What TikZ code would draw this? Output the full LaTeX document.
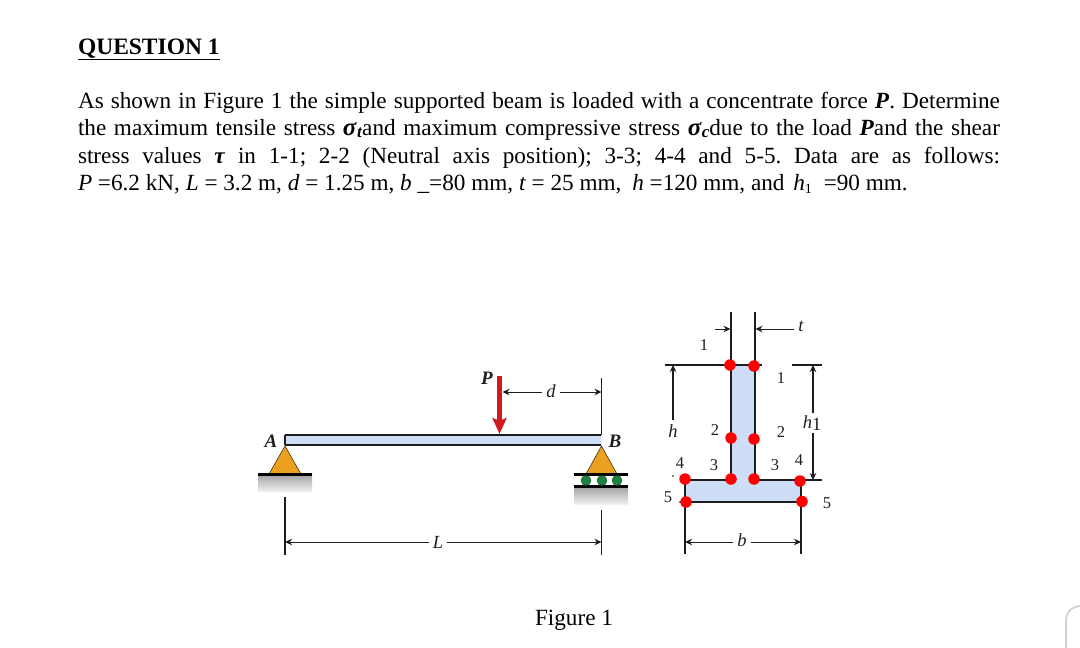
\documentclass[tikz,border=0pt]{standalone}
\usepackage{fontspec}
\setmainfont{Liberation Serif}
\usetikzlibrary{arrows.meta}
\newcommand\bi[1]{\textbf{\textit{#1}}}
\newcommand\bigsym[2]{{\fontsize{25}{25}\selectfont\bi{#1}}\raisebox{-0.2ex}{\fontsize{17}{17}\selectfont\bi{#2}}}
\newcommand\lowidx[1]{\raisebox{-0.25ex}{\fontsize{14}{14}\selectfont #1}}
\definecolor{beamblue}{RGB}{205,222,246}
\definecolor{pinorange}{RGB}{236,160,32}
\definecolor{rollgreen}{RGB}{30,130,65}
\definecolor{loadred}{RGB}{210,25,30}
\definecolor{inkdark}{RGB}{30,30,32}
\begin{document}
\begin{tikzpicture}[x=1pt,y=-1pt]
\tikzset{
  body text/.style = {inner sep = 0pt, outer sep = 0pt, font=\fontsize{23.2}{27.4}\selectfont},
  wall/.style = {draw=inkdark, line width=1.5pt},
  thin wall/.style = {draw=inkdark, line width=1.1pt},
  dim/.style = {draw=inkdark, line width=1pt, -{Stealth[length=7pt,width=6.5pt]}},
  vdim/.style = {dim, line width=1.3pt},
  ground/.style = {top color=black!36, bottom color=black!6, draw=none},
  pin/.style = {draw=black!70!pinorange, fill=pinorange, line width=0.6pt},
  roller/.style = {circle, fill=rollgreen, draw=black!40!rollgreen, inner sep=0pt, minimum size=10pt},
  reddot/.style = {circle, fill=red, inner sep=0pt, minimum width=10.5pt, minimum height=11.5pt},
  letter/.style = {inner sep=4pt, text=inkdark, font=\fontsize{18.5}{18}\selectfont\itshape},
  strong letter/.style = {letter, font=\fontsize{19}{18}\selectfont\itshape\bfseries},
  digit/.style = {inner sep=0pt, text=inkdark, font=\fontsize{16.5}{16.5}\selectfont}
}
\useasboundingbox (0,0) rectangle (1080,648);
% text
\node[body text, anchor=base west, font=\fontsize{23.5}{27.4}\selectfont] (title) at (78,54) {\textbf{\underline{QUESTION 1}}};
\node[body text, anchor=north west, text width=922pt, align=justify] (para) at (78,92) {\frenchspacing%
As shown in Figure 1 the simple supported beam is loaded with a concentrate force \bi{P}. Determine\linebreak
the maximum tensile stress \bigsym{σ}{t}and maximum compressive stress \bigsym{σ}{c}due to the load \bi{P}and the shear\linebreak
stress values \bi{τ} in 1-1; 2-2 (Neutral axis position); 3-3; 4-4 and 5-5. Data are as follows:\linebreak
\textit{P} =6.2 kN, \textit{L} = 3.2 m, \textit{d} = 1.25 m, \textit{b} \_=80 mm, \textit{t} = 25 mm,\hspace{5pt} \textit{h} =120 mm, and\hspace{3pt} \textit{h}\lowidx{1}\hspace{6pt} =90 mm.};
\node[body text, anchor=base] (figcap) at (574,625) {Figure 1};
% beam
\path[fill=beamblue] (285,435) rectangle (601,445);
\draw[wall] (601,445) -- (285,445);
\draw[draw=inkdark, line width=1.8pt] (285,435) -- (601,435);
\draw[thin wall] (285,435) -- (285,445);
% supports
\shade[ground] (258,475) rectangle (312,491);
\shade[ground] (574,487) rectangle (628,504);
\draw[pin] (285,446) -- (269,474) -- (301,474) -- cycle;
\draw[pin] (601.5,446) -- (586,474) -- (617,474) -- cycle;
\draw[draw=black, line width=2.6pt] (258,474.5) -- (312,474.5);
\draw[draw=black, line width=2.6pt] (574,474.5) -- (628,474.5);
\draw[draw=black, line width=2.6pt] (574,486.5) -- (628,486.5);
\foreach \rx [count=\n] in {586,602,617}
  \node[roller] (roll\n) at (\rx,480.5) {};
\node[strong letter] (labA) at (271,441) {A};
\node[strong letter] (labB) at (615,441) {B};
% load
\node[strong letter] (labP) at (487,378) {P};
\coordinate (loadtop) at (499.5,376);
\coordinate (loadtip) at (499.5,434);
\draw[draw=loadred, line width=4.4pt, -{Stealth[length=16pt,width=14pt,inset=3pt]}] (loadtop) -- (loadtip);
% dimensions of the beam
\coordinate (dtop) at (601.5,378);
\coordinate (dbot) at (601.5,435);
\draw[thin wall] (dtop) -- (dbot);
\node[letter] (labd) at (551,391) {d};
\coordinate (dleft) at (502.5,392);
\coordinate (dright) at (601.5,392);
\draw[dim] (labd.west |- dleft) -- (dleft);
\draw[dim] (labd.east |- dright) -- (dright);
\coordinate (La) at (285,497);
\coordinate (Lb) at (285,555);
\coordinate (Lc) at (601.5,510);
\coordinate (Ld) at (601.5,555);
\draw[thin wall] (La) -- (Lb);
\draw[thin wall] (Lc) -- (Ld);
\node[letter] (labL) at (438,542) {L};
\coordinate (Lleft) at (285,542);
\coordinate (Lright) at (601.5,542);
\draw[dim] (labL) -- (Lleft);
\draw[dim] (labL) -- (Lright);
% cross section
\path[fill=beamblue] (731,365) -- (755,365) -- (755,480) -- (801,480) -- (801,502) -- (685,502) -- (685,480) -- (731,480) -- cycle;
\draw[wall] (731,312) -- (731,480) -- (685,480) -- (685,554);
\draw[wall] (755,312) -- (755,480) -- (801,480) -- (801,554);
\draw[wall] (685,502) -- (801,502);
\draw[thin wall] (665,365) -- (762,365);
\draw[thin wall] (792,365) -- (822,365);
\draw[thin wall] (801,480) -- (822,480);
% dimensions of the section
\coordinate (tinl) at (715,329);
\coordinate (tina) at (730.5,329);
\coordinate (tinr) at (794,329);
\coordinate (tinb) at (755.5,329);
\draw[dim] (tinl) -- (tina);
\draw[dim] (tinr) -- (tinb);
\node[letter] (labt) at (801,326) {t};
\node[letter] (labh) at (673,431) {h};
\coordinate (htop) at (673,365);
\draw[vdim] (labh) -- (htop);
\node[letter, inner sep=2pt] (labhone) at (812,423) {h\raisebox{-0.3ex}{\upshape 1}};
\coordinate (honetop) at (813,365);
\coordinate (honebot) at (813,480);
\draw[vdim] (labhone.north -| honetop) -- (honetop);
\draw[vdim] (labhone.south -| honebot) -- (honebot);
\node[letter] (labb) at (742,540) {b};
\coordinate (bleft) at (685,542);
\coordinate (bright) at (801,542);
\draw[dim] (labb.west |- bleft) -- (bleft);
\draw[dim] (labb.east |- bright) -- (bright);
% section points
\foreach \px/\py [count=\n] in {730/365,754/366,731/438,754/439,731/479,754/479,685/479,800/481,686/502,802/501.5}
  \node[reddot] (pt\n) at (\px,\py) {};
\foreach \tx/\ty/\tn [count=\n] in {704/345/1,781/378/1,715/430/2,781/432/2,680/463/4,714/465/3,775/465/3,799/460/4,668/497/5,827/503/5}
  \node[digit] (num\n) at (\tx,\ty) {\tn};
\foreach \sx/\sy [count=\n] in {673/476,680/502}
  \fill[black] (\sx,\sy) circle (0.9pt) coordinate (speck\n);
% page corner
\draw[draw=black!18, line width=1.8pt] (1066,648) -- (1066,622) .. controls (1066,612) and (1071,607) .. (1080,606);
\end{tikzpicture}
\end{document}
